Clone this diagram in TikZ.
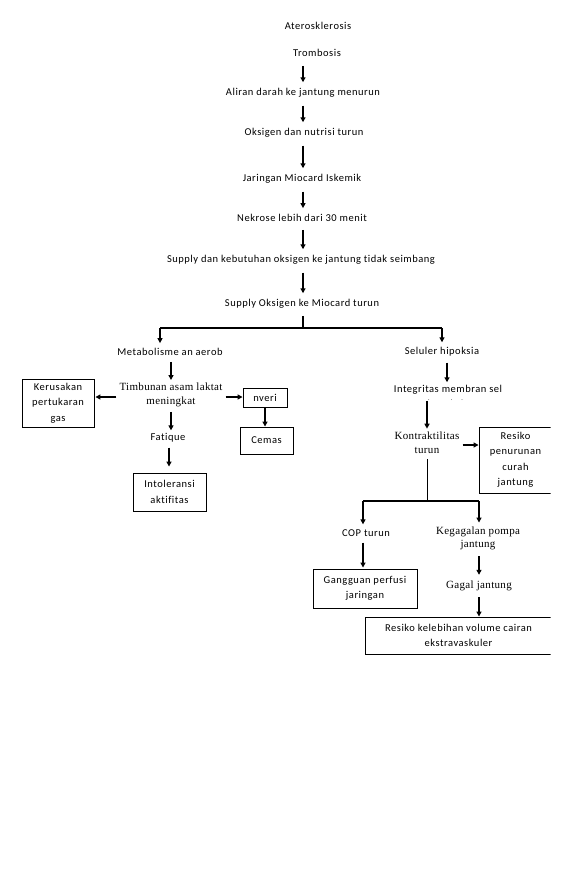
\documentclass[tikz,border=0pt]{standalone}
\usepackage{fontspec}
\setmainfont[LetterSpace=5,Ligatures=NoCommon]{Carlito}
\newfontfamily\tnr[LetterSpace=3,Ligatures=NoCommon]{Liberation Serif}
\usetikzlibrary{arrows.meta}

\tikzset{
  lbl/.style={inner sep=0pt, align=center, font=\fontsize{10.5}{15}\selectfont},
  tlbl/.style={inner sep=0pt, align=center, font=\tnr\fontsize{11}{13.5}\selectfont},
  kotak/.style={draw, line width=0.9pt, inner sep=0pt, align=center,
                font=\fontsize{10.5}{15.5}\selectfont},
  arr/.style={-{Triangle[length=5pt,width=5pt]}, line width=1.4pt},
  garis/.style={line width=1.6pt}
}

\begin{document}
\begin{tikzpicture}[x=1pt,y=-1pt]
            \useasboundingbox (0,0) rectangle (580,880);
            \clip (0,0) rectangle (550.5,880);

            % main chain
            \node[lbl] (ater) at (318,26) {Aterosklerosis};
            \node[lbl] (tromb) at (317,53) {Trombosis};
            \node[lbl] (aliran) at (303,93) {Aliran darah ke jantung menurun};
            \node[lbl] (oksi) at (304,133) {Oksigen dan nutrisi turun};
            \node[lbl] (jarin) at (302,179) {Jaringan Miocard Iskemik};
            \node[lbl] (nekro) at (302,218) {Nekrose lebih dari 30 menit};
            \node[lbl] (suplai) at (301,260) {Supply dan kebutuhan oksigen ke jantung tidak seimbang};
            \node[lbl] (supok) at (302,304) {Supply Oksigen ke Miocard turun};

            \draw[arr, shorten <=9pt, shorten >=6pt] (aliran.north |- tromb.south) -- (aliran.north);
            \draw[arr, shorten <=8pt, shorten >=6pt] (aliran.south) -- (oksi.north -| aliran.south);
            \draw[arr, shorten <=8pt, shorten >=6pt] (aliran.south |- oksi.south) -- (jarin.north -| aliran.south);
            \draw[arr, shorten <=8pt, shorten >=6pt] (aliran.south |- jarin.south) -- (nekro.north -| aliran.south);
            \draw[arr, shorten <=8pt, shorten >=6pt] (aliran.south |- nekro.south) -- (suplai.north -| aliran.south);
            \draw[arr, shorten <=8pt, shorten >=6pt] (aliran.south |- suplai.south) -- (supok.north -| aliran.south);

            % cabang
            \coordinate (cab1) at (303,328);
            \coordinate (kiri) at (160,328);
            \coordinate (kanan) at (442,328);
            \draw[garis, shorten <=7pt] (supok.south -| cab1) -- (cab1);
            \draw[garis] (kiri) -- (kanan);

            % kiri
            \node[lbl] (meta) at (170,352) {Metabolisme an aerob};
            \node[tlbl] (timb) at (171,395) {Timbunan asam laktat\\meningkat};
            \node[kotak, minimum width=72pt, minimum height=48pt] (kerus) at (58,403) {Kerusakan\\pertukaran\\gas};
            \node[kotak, minimum width=44pt, minimum height=19pt] (nyeri) at (265,397.5) {nveri};
            \node[kotak, minimum width=53pt, minimum height=27pt] (cemas) at (266.5,440.5) {Cemas};
            \node[lbl] (fatiq) at (168,438) {Fatique};
            \node[kotak, minimum width=73pt, minimum height=38pt] (intol) at (169.5,492) {Intoleransi\\aktifitas};

            \draw[arr, shorten >=5pt] (kiri) -- (kiri |- meta.north);
            \draw[arr, shorten <=6pt, shorten >=3pt] (meta.south -| timb.north) -- (timb.north);
            \draw[arr, shorten <=3pt, shorten >=1pt] (timb.west |- 0,397) -- (kerus.east |- 0,397);
            \draw[arr, shorten <=3pt] (timb.east |- 0,397) -- (nyeri.west |- 0,397);
            \draw[arr] (nyeri.south) -- (cemas.north -| nyeri.south);
            \draw[arr, shorten <=5pt, shorten >=3pt] (timb.south) -- (timb.south |- fatiq.north);
            \draw[arr, shorten <=5pt, shorten >=6pt] (fatiq.south -| 169,0) -- (intol.north -| 169,0);

            % kanan
            \node[lbl] (selul) at (442,352) {Seluler hipoksia};
            \node[lbl] (integ) at (448,390) {Integritas membran sel};
            \node[inner sep=0pt, font=\fontsize{6}{6}\selectfont] (titik) at (445.5,400) {.\hspace{21pt}.\hspace{9pt}.};
            \node[tlbl] (kontr) at (427,442.5) {Kontraktilitas\\turun};
            \node[kotak, minimum width=73pt, minimum height=66pt] (penur) at (515.5,460) {Resiko\\penurunan\\curah\\jantung};

            \draw[arr, shorten >=5pt] (kanan) -- (kanan |- selul.north);
            \draw[arr, shorten <=6pt, shorten >=3pt] (selul.south -| 447,0) -- (integ.north -| 447,0);
            \draw[arr, shorten <=6pt, shorten >=3pt] (integ.south -| kontr.north) -- (kontr.north);
            \draw[arr, shorten <=3pt] (kontr.east |- 0,445) -- (penur.west |- 0,445);

            \coordinate (cab2) at (427,501);
            \coordinate (kiri2) at (363,501);
            \coordinate (kanan2) at (479,501);
            \draw[line width=1pt, shorten <=6pt] (kontr.south) -- (cab2);
            \draw[garis] (kiri2) -- (kanan2);

            \node[lbl] (cop) at (366,533) {COP turun};
            \node[tlbl] (kegag) at (478,538.5) {Kegagalan pompa\\jantung};
            \node[kotak, minimum width=104pt, minimum height=39pt] (gangg) at (365,588.5) {Gangguan perfusi\\jaringan};
            \node[tlbl] (gagal) at (479,586) {Gagal jantung};
            \node[kotak, minimum width=187pt, minimum height=37pt] (lebih) at (458.5,635.5) {Resiko kelebihan volume cairan\\ekstravaskuler};

            \draw[arr, shorten >=5pt] (kiri2) -- (kiri2 |- cop.north);
            \draw[arr, shorten >=4pt] (kanan2) -- (kanan2 |- kegag.north);
            \draw[arr, shorten <=6pt, shorten >=1pt] (cop.south -| kiri2) -- (gangg.north -| kiri2);
            \draw[arr, shorten <=6pt, shorten >=6pt] (kegag.south -| kanan2) -- (gagal.north -| kanan2);
            \draw[arr, shorten <=6pt] (gagal.south -| kanan2) -- (lebih.north -| kanan2);
\end{tikzpicture}
\end{document}
